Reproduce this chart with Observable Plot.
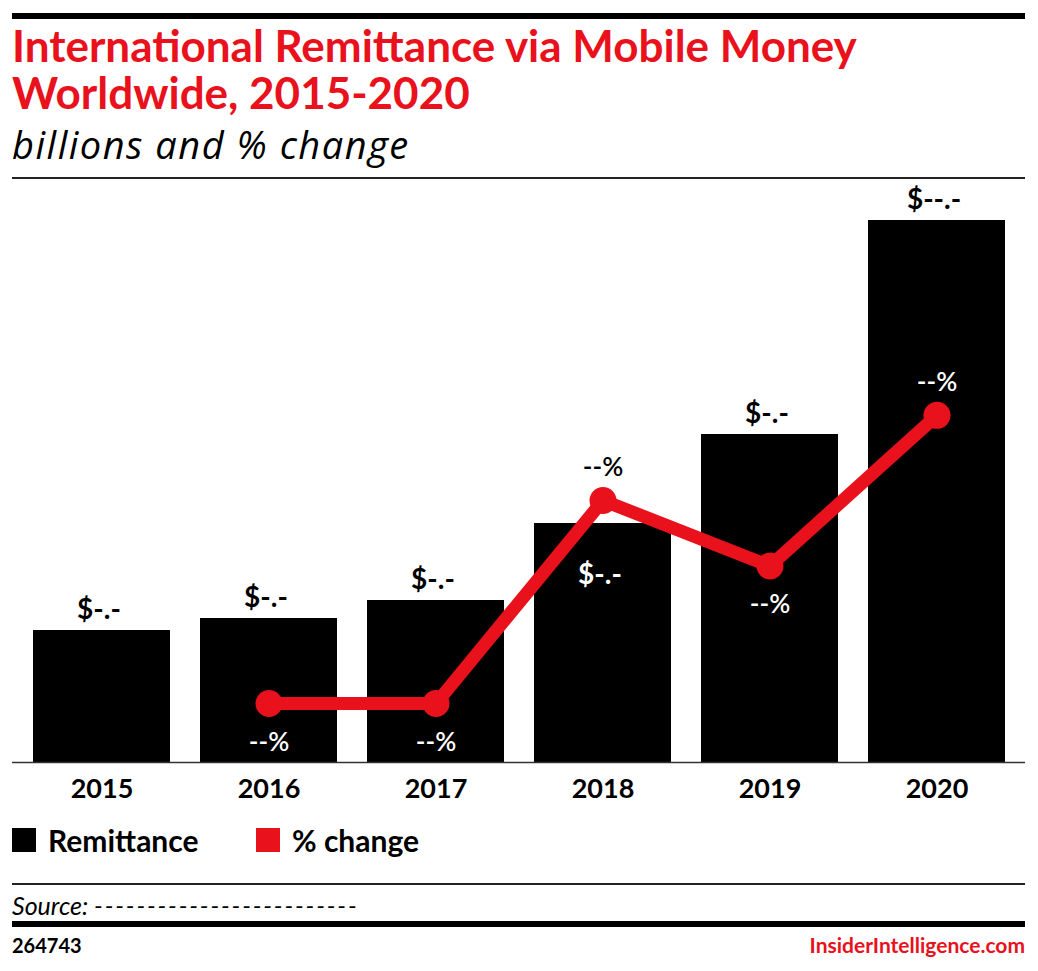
<!DOCTYPE html>
<html><head><meta charset="utf-8">
<script src="https://cdn.jsdelivr.net/npm/d3@7"></script>
<script src="https://cdn.jsdelivr.net/npm/@observablehq/plot@0.6"></script>
<style>
body{margin:0;background:#fff;font-family:Lato,"Noto Sans",sans-serif;color:#000;}
#wrap{position:relative;width:1038px;height:971px;overflow:hidden;}
.abs{position:absolute;white-space:nowrap;}
</style></head><body><div id="wrap">
<div class="abs" style="left:12px;top:13px;width:1013px;height:6px;background:#000"></div>
<div class="abs" style="left:12px;top:22px;font-weight:700;font-size:44px;line-height:47px;color:#E8111C">International Remittance via Mobile Money<br>Worldwide, 2015-2020</div>
<div class="abs" style="left:12px;top:122px;font-family:'Open Sans',sans-serif;font-style:italic;font-size:38px;line-height:44px;letter-spacing:1.5px">billions and % change</div>
<div class="abs" style="left:12px;top:177px;width:1013px;height:2px;background:#222"></div>
<div class="abs" id="chart" style="left:0;top:180px"></div>
<div class="abs" style="left:12px;top:828px;width:24px;height:24px;background:#000"></div>
<div class="abs" style="left:48px;top:821px;font-weight:700;font-size:30px;line-height:38px">Remittance</div>
<div class="abs" style="left:256px;top:828px;width:24px;height:24px;background:#E8111C"></div>
<div class="abs" style="left:292px;top:821px;font-weight:700;font-size:30px;line-height:38px">% change</div>
<div class="abs" style="left:12px;top:883px;width:1013px;height:2px;background:#222"></div>
<div class="abs" style="left:12px;top:889px;font-style:italic;font-size:25px;line-height:32px">Source: <span style="letter-spacing:1.8px">-------------------------</span></div>
<div class="abs" style="left:12px;top:921px;width:1013px;height:6px;background:#000"></div>
<div class="abs" style="left:12px;top:932px;font-weight:700;font-size:20px;line-height:26px">264743</div>
<div class="abs" style="right:13px;top:931px;font-weight:700;font-size:21px;line-height:28px;color:#E8111C">InsiderIntelligence.com</div>
</div>
<script>
const years = ["2015","2016","2017","2018","2019","2020"];
const remittance = [1.32, 1.44, 1.62, 2.39, 3.28, 5.42];
const remitLabels = ["$-.-","$-.-","$-.-","$-.-","$-.-","$--.-"];
const pctYears = ["2016","2017","2018","2019","2020"];
const pctChange = [9, 9, 40, 30, 53];
const pctLabels = ["--%","--%","--%","--%","--%"];

const RED = "#E8111C";
const K = 0.0655; // % change drawn against the bar axis
const bars = years.map((y,i)=>({year:y, value:remittance[i], label:remitLabels[i]}));
const pcts = pctYears.map((y,i)=>({year:y, pct:pctChange[i], v:pctChange[i]*K, label:pctLabels[i]}));
const insideBar = new Set(["2018"]);
const pctBelow = new Set(["2016","2017","2019"]);
const pctDark = new Set(["2018"]);
const lblStyle = {fontSize:28, fontWeight:700, letterSpacing:"2.5px"};
const pctStyle = {fontSize:26, fontWeight:600, letterSpacing:"1.5px"};

const chart = Plot.plot({
  width:1038, height:630,
  marginLeft:12, marginRight:13, marginTop:0, marginBottom:48,
  x:{domain:years, paddingInner:0.18, paddingOuter:0.116, label:null},
  y:{domain:[0,5.82], axis:null},
  style:{fontFamily:"Lato, 'Noto Sans', sans-serif", background:"transparent"},
  marks:[
    Plot.barY(bars,{x:"year", y:"value", fill:"#000"}),
    Plot.ruleY([0],{stroke:"#333", strokeWidth:1.5}),
    Plot.axisX({tickSize:0, tickPadding:16, fontSize:27, fontWeight:700, fill:"#000", label:null}),
    Plot.text(bars.filter(d=>!insideBar.has(d.year)),{x:"year", y:"value", text:"label", dy:-20, dx:-3, ...lblStyle, fill:"#000"}),
    Plot.text(bars.filter(d=>insideBar.has(d.year)),{x:"year", y:"value", text:"label", dy:52, dx:-3, ...lblStyle, fill:"#fff"}),
    Plot.line(pcts,{x:"year", y:"v", stroke:RED, strokeWidth:13}),
    Plot.dot(pcts,{x:"year", y:"v", r:13.5, fill:RED}),
    Plot.text(pcts.filter(d=>pctBelow.has(d.year)),{x:"year", y:"v", text:"label", dy:39, ...pctStyle, fill:"#fff"}),
    Plot.text(pcts.filter(d=>!pctBelow.has(d.year) && pctDark.has(d.year)),{x:"year", y:"v", text:"label", dy:-33, ...pctStyle, fill:"#000"}),
    Plot.text(pcts.filter(d=>!pctBelow.has(d.year) && !pctDark.has(d.year)),{x:"year", y:"v", text:"label", dy:-33, ...pctStyle, fill:"#fff"})
  ]
});
document.getElementById("chart").appendChild(chart);
</script>
</body></html>
